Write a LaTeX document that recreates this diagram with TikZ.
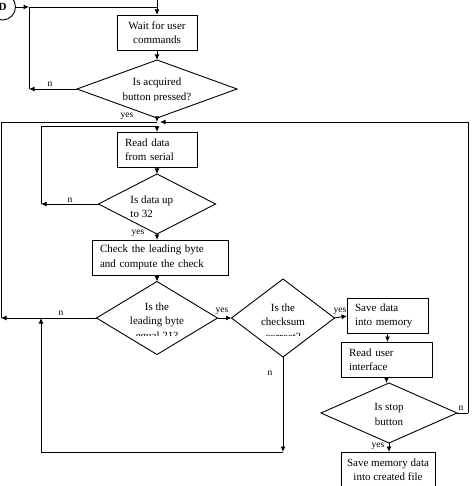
\documentclass[tikz,border=0pt]{standalone}
\usepackage{fontspec}
\setmainfont{Liberation Serif}
\usetikzlibrary{shapes.geometric,arrows.meta}
\begin{document}
\begin{tikzpicture}[x=1pt,y=-1pt,
 line width=0.9pt,
 every node/.style={font=\fontsize{11}{14.5}\selectfont},
 box/.style={draw, rectangle, inner sep=0pt, outer sep=0pt, minimum height=35pt},
 lbox/.style={box, align=left, inner xsep=8pt, text width=#1},
 cbox/.style={box, align=center, minimum width=#1},
 dia/.style={draw, diamond, inner sep=0pt, outer sep=0pt},
 txt/.style={inner sep=0pt, align=center},
 lab/.style={font=\fontsize{9.5}{11}\selectfont, inner sep=0pt},
 arr/.style={-{Latex[length=5.5pt,width=5pt]}},
]
\useasboundingbox (0,0) rectangle (474,486);
\clip (0,0) rectangle (474,486);

% nodes
\node[circle, draw, minimum size=26pt, inner sep=0pt, outer sep=0pt, font=\fontsize{11}{13}\selectfont\bfseries] (start) at (2.5,7) {D};
\node[cbox=80pt] (box1) at (157,32.5) {Wait for user\\commands};
\node[dia, minimum width=160pt, minimum height=58pt] (dia1) at (157,89) {};
\begin{scope}
\clip (60,60) rectangle (260,101);
\node[txt] (dia1t) at (157,90.5) {Is acquired\\button pressed?};
\end{scope}
\node[lbox=64pt] (box2) at (157,149.5) {Read data\\from serial};
\node[dia, minimum width=117pt, minimum height=60pt] (dia2) at (157,204) {};
\node[txt, align=left, anchor=west] (dia2t) at (130,206.5) {Is data up\\to 32};
\node[lbox=120pt] (box3) at (160,257.5) {Check the leading byte\\and compute the check};
\node[dia, minimum width=121pt, minimum height=73pt] (dia3) at (157,318) {};
\node[dia, minimum width=103pt, minimum height=78pt] (dia4) at (283,318) {};
\begin{scope}
\clip (90,280) rectangle (340,335);
\node[txt] (dia3t) at (157,322) {Is the\\leading byte\\equal 21?};
\node[txt] (dia4t) at (283,322) {Is the\\checksum\\correct?};
\end{scope}
\node[lbox=65pt] (box5) at (387.5,316) {Save data\\into memory};
\node[lbox=75pt] (box6) at (386.5,359.5) {Read user\\interface};
\node[dia, minimum width=136pt, minimum height=60pt] (dia5) at (389,413) {};
\node[txt] (dia5t) at (389,414.5) {Is stop\\button};
\node[cbox=94pt] (box7) at (388,469.5) {Save memory data\\into created file};

% coordinates
\coordinate (top) at (157,-5);
\coordinate (j1) at (29,7);
\coordinate (j2) at (29,89);
\coordinate (m1) at (157,122);
\coordinate (m2) at (157,126);
\coordinate (mr) at (160,122);
\coordinate (r1) at (468,413);
\coordinate (r2) at (468,122);
\coordinate (l1) at (1,318);
\coordinate (l2) at (1,122);
\coordinate (i1) at (41,204);
\coordinate (i2) at (41,126);
\coordinate (c1) at (283,452);
\coordinate (c2) at (41,452);
\coordinate (c3) at (41,318);

% connectors
\draw[arr] (top) -- (box1.north);
\draw[arr] (start.east) -- (j1);
\draw (j1) -- (top |- j1);
\draw[arr] (box1.south) -- (dia1.north);
\draw[arr] (dia1.west) -- (j2);
\draw (j2) -- (j1);
\draw[arr] (dia1.south) -- (m1);
\draw[arr] (m2) -- (box2.north);
\draw[arr] (r1) -- (r2) -- (mr);
\draw (dia5.east) -- (r1);
\draw[arr] (dia3.west) -- (l1);
\draw (l1) -- (l2) -- (m1);
\draw[arr] (dia2.west) -- (i1);
\draw (i1) -- (i2) -- (m2);
\draw[arr] (box2.south) -- (dia2.north);
\draw[arr] (dia2.south) -- (dia2.south |- box3.north);
\draw[arr] (dia3.north |- box3.south) -- (dia3.north);
\draw[arr] (dia3.east) -- (dia4.west);
\draw[arr] (dia4.east) -- (box5.west);
\draw[arr] (dia4.south) -- (c1);
\draw[arr] (c1) -- (c2) -- (c3);
\draw[arr] (box5.south) -- (box5.south |- box6.north);
\draw[arr] (box6.south) -- (box6.south |- dia5.north);
\draw[arr] (dia5.south) -- (dia5.south |- box7.north);

% labels
\node[lab] (ln1) at (50,84) {n};
\node[lab] (ly1) at (127,116) {yes};
\node[lab] (ln2) at (70,200) {n};
\node[lab] (ly2) at (138,233) {yes};
\node[lab] (ln3) at (61,313) {n};
\node[lab] (ly3) at (222,311) {yes};
\node[lab] (ly4) at (340,311) {yes};
\node[lab] (ln4) at (270,373) {n};
\node[lab] (ln5) at (461,408) {n};
\node[lab] (ly5) at (378,446) {yes};
\end{tikzpicture}
\end{document}
